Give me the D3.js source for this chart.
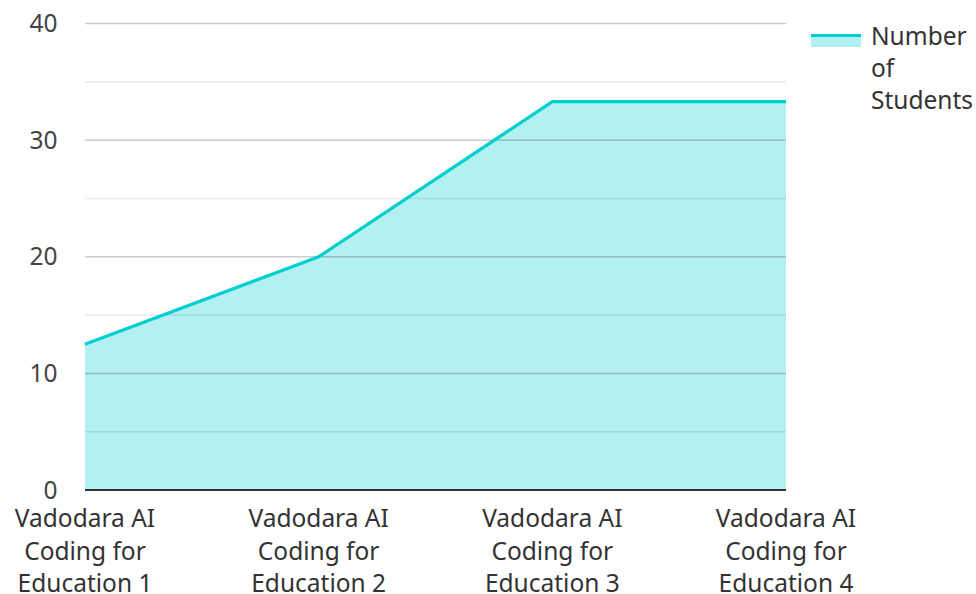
<!DOCTYPE html>
<html><head><meta charset="utf-8">
<script src="https://cdn.jsdelivr.net/npm/d3@7/dist/d3.min.js"></script>
<style>body{margin:0;background:#fff;font-family:"Noto Sans",sans-serif;}</style>
</head><body><svg id="c" width="976" height="594"></svg>
<script>
const categories = [["Vadodara AI","Coding for","Education 1"],["Vadodara AI","Coding for","Education 2"],["Vadodara AI","Coding for","Education 3"],["Vadodara AI","Coding for","Education 4"]];
const values = [12.5, 20, 33.3, 33.3];
const majorTicks = [0,10,20,30,40];
const minorTicks = [5,15,25,35];
const seriesName = ["Number","of","Students"];

const svg = d3.select("#c");
const L=85,R=786,T=23.5,B=490;
const x = d3.scalePoint().domain(d3.range(values.length)).range([L,R]);
const y = d3.scaleLinear().domain([0,40]).range([B,T]);
const line = "#00cfd0", fill = "rgba(0,206,209,0.3)";
const FS = 24.5;

svg.append("path").datum(values)
 .attr("d", d3.area().x((d,i)=>x(i)).y0(y(0)).y1(d=>y(d)))
 .attr("fill", fill);

svg.selectAll(".mn").data(minorTicks).enter().append("line")
 .attr("x1",L).attr("x2",R).attr("y1",d=>y(d)).attr("y2",d=>y(d))
 .attr("stroke","rgba(0,0,0,0.09)").attr("stroke-width",1.5);
svg.selectAll(".mj").data(majorTicks.filter(d=>d>0)).enter().append("line")
 .attr("x1",L).attr("x2",R).attr("y1",d=>y(d)).attr("y2",d=>y(d))
 .attr("stroke","rgba(0,0,0,0.2)").attr("stroke-width",1.5);

svg.append("path").datum(values)
 .attr("d", d3.line().x((d,i)=>x(i)).y(d=>y(d)))
 .attr("fill","none").attr("stroke",line).attr("stroke-width",3.2);

svg.append("line").attr("x1",L).attr("x2",R).attr("y1",y(0)).attr("y2",y(0))
 .attr("stroke","#333").attr("stroke-width",2);

svg.selectAll(".yl").data(majorTicks).enter().append("text")
 .attr("x",57.5).attr("y",d=>y(d)+8.5).attr("text-anchor","end")
 .attr("font-size",FS).attr("fill","#444").text(d=>d);

categories.forEach((c,i)=>{
  const t = svg.append("text").attr("text-anchor","middle").attr("font-size",FS).attr("fill","#333");
  c.forEach((s,j)=>t.append("tspan").attr("x",x(i)).attr("y",527+j*32.5).text(s));
});

svg.append("rect").attr("x",811).attr("y",35).attr("width",50).attr("height",12).attr("fill",fill);
svg.append("line").attr("x1",811).attr("x2",861).attr("y1",35.5).attr("y2",35.5).attr("stroke",line).attr("stroke-width",3.2);
const lt = svg.append("text").attr("font-size",FS).attr("fill","#333");
seriesName.forEach((s,j)=>lt.append("tspan").attr("x",871).attr("y",44.5+j*32).text(s));
</script></body></html>
